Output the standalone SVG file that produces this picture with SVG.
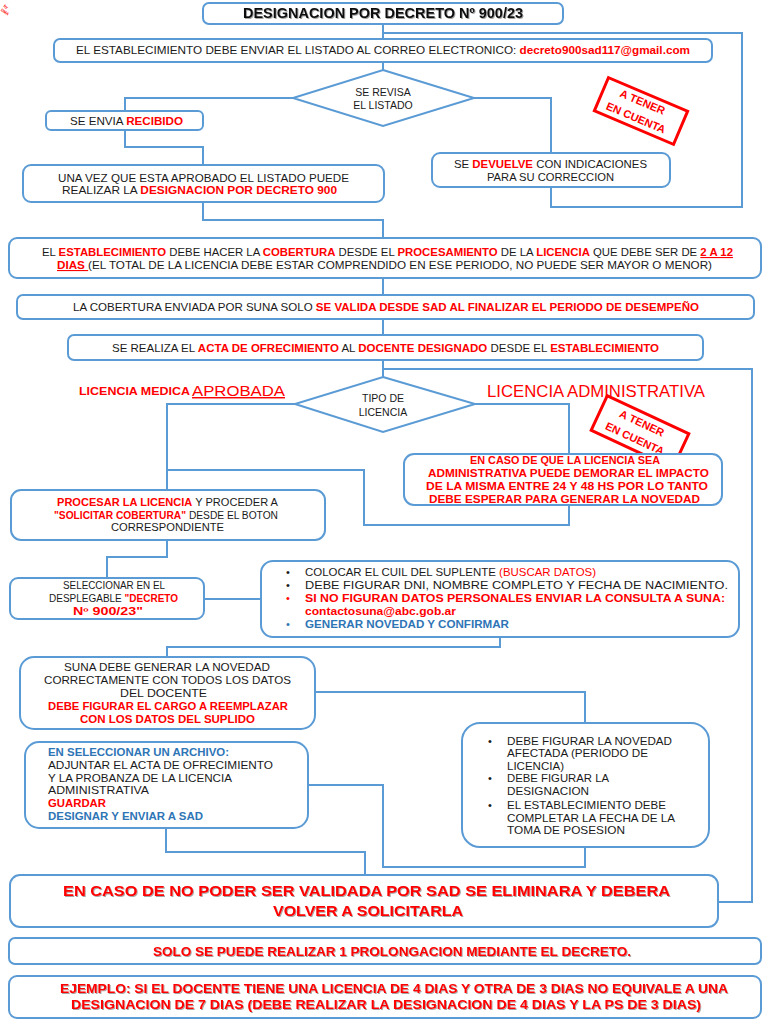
<svg xmlns="http://www.w3.org/2000/svg" width="768" height="1024" viewBox="0 0 768 1024">
<style>
.box{fill:#fff;stroke:#5B9BD5;stroke-width:2}
.dia{fill:#fff;stroke:#5B9BD5;stroke-width:2}
.conn{fill:none;stroke:#5B9BD5;stroke-width:2}
text{font-family:"Liberation Sans",Arial,sans-serif;font-size:11px;fill:#1a1a1a}
.c{text-anchor:middle}
.r{fill:#FF0000;font-weight:bold}
.rn{fill:#FF0000}
.bl{fill:#2E75B6;font-weight:bold}
.u{text-decoration:underline}
.sm{font-size:10px}
.stamp rect{fill:none;stroke:#FF0000;stroke-width:3}
.stamp text{fill:#FF0000;font-weight:bold;font-size:11px;text-anchor:middle}
</style>
<defs>
<filter id="sh" x="-5%" y="-30%" width="110%" height="160%">
<feDropShadow dx="1" dy="1" stdDeviation="0.6" flood-color="#000" flood-opacity="0.35"/>
</filter>
</defs>
<rect width="768" height="1024" fill="#fff"/>

<g id="logo" transform="translate(5,4) rotate(35)">
<text x="0" y="3" style="font-size:4px;fill:#FF0000;font-weight:bold">by</text>
<text x="0" y="8" style="font-size:4px;fill:#FF0000;font-weight:bold">DMA</text>
</g>

<g id="connectors">
<path class="conn" d="M383 24 V39"/>
<path class="conn" d="M474 98 H551 V207 H742 V33 H383"/>
<path class="conn" d="M383 62 V70"/>
<path class="conn" d="M293 98 H125 V111"/>
<path class="conn" d="M125 130 V147 H203 V165"/>
<path class="conn" d="M203 202 V220 H383 V238"/>
<path class="conn" d="M383 278 V295"/>
<path class="conn" d="M383 319 V335"/>
<path class="conn" d="M383 360 V377"/>
<path class="conn" d="M383 369 H752 V902 H718"/>
<path class="conn" d="M475 404 H569 V454"/>
<path class="conn" d="M295 404 H167 V490"/>
<path class="conn" d="M569 505 V525 H364 V470 H167"/>
<path class="conn" d="M167 540 V557 H107 V578"/>
<path class="conn" d="M204 599 H261"/>
<path class="conn" d="M500 637 V647 H167 V657"/>
<path class="conn" d="M315 692 H585 V723"/>
<path class="conn" d="M308 785 H383 V867 H585 V847"/>
<path class="conn" d="M166 828 V852 H365 V876"/>
</g>

<g id="stamp1" class="stamp" transform="translate(641,111) rotate(23)">
<rect x="-43" y="-18" width="86" height="36"/>
<text x="-2" y="-5">A TENER</text>
<text x="-2" y="12">EN CUENTA</text>
</g>
<g id="stamp2" class="stamp" transform="translate(640,432) rotate(25)">
<rect x="-45" y="-19" width="90" height="38"/>
<text x="-2" y="-5">A TENER</text>
<text x="-2" y="12">EN CUENTA</text>
</g>

<g id="title">
<rect class="box" x="203" y="3" width="360" height="21" rx="6"/>
<text x="243" y="18" textLength="280" lengthAdjust="spacingAndGlyphs" style="font-size:14px;font-weight:bold;fill:#111" filter="url(#sh)">DESIGNACION POR DECRETO Nº 900/23</text>
</g>

<g id="enviar-listado">
<rect class="box" x="54" y="39" width="658" height="23" rx="6"/>
<text x="76" y="54" textLength="614" lengthAdjust="spacingAndGlyphs" style="font-size:11.5px">EL ESTABLECIMIENTO DEBE ENVIAR EL LISTADO AL CORREO ELECTRONICO: <tspan class="r">decreto900sad117@gmail.com</tspan></text>
</g>

<g id="se-revisa">
<polygon class="dia" points="383,70 474,98 383,126 293,98"/>
<text class="c" x="383" y="96" style="font-size:10.5px">SE REVISA</text>
<text class="c" x="383" y="109" style="font-size:10.5px">EL LISTADO</text>
</g>

<g id="recibido">
<rect class="box" x="46" y="111" width="157" height="19" rx="5"/>
<text x="70" y="125" textLength="113" lengthAdjust="spacingAndGlyphs">SE ENVIA <tspan class="r">RECIBIDO</tspan></text>
</g>

<g id="devuelve">
<rect class="box" x="432" y="153" width="238" height="34" rx="8"/>
<text x="454" y="168" textLength="193" lengthAdjust="spacingAndGlyphs">SE <tspan class="r">DEVUELVE</tspan> CON INDICACIONES</text>
<text x="487" y="181" textLength="127" lengthAdjust="spacingAndGlyphs">PARA SU CORRECCION</text>
</g>

<g id="aprobado">
<rect class="box" x="23" y="165" width="361" height="37" rx="8"/>
<text x="58" y="182" textLength="291" lengthAdjust="spacingAndGlyphs">UNA VEZ QUE ESTA APROBADO EL LISTADO PUEDE</text>
<text x="62" y="194" textLength="275" lengthAdjust="spacingAndGlyphs">REALIZAR LA <tspan class="r">DESIGNACION POR DECRETO 900</tspan></text>
</g>

<g id="cobertura-procesamiento">
<rect class="box" x="9" y="238" width="752" height="40" rx="8"/>
<text x="42" y="256" textLength="691" lengthAdjust="spacingAndGlyphs">EL <tspan class="r">ESTABLECIMIENTO</tspan> DEBE HACER LA <tspan class="r">COBERTURA</tspan> DESDE EL <tspan class="r">PROCESAMIENTO</tspan> DE LA <tspan class="r">LICENCIA</tspan> QUE DEBE SER DE <tspan class="r u">2 A 12</tspan></text>
<text x="57" y="269" textLength="655" lengthAdjust="spacingAndGlyphs"><tspan class="r u">DIAS </tspan>(EL TOTAL DE LA LICENCIA DEBE ESTAR COMPRENDIDO EN ESE PERIODO, NO PUEDE SER MAYOR O MENOR)</text>
</g>

<g id="cobertura-suna">
<rect class="box" x="17" y="295" width="737" height="24" rx="6"/>
<text x="73" y="311" textLength="626" lengthAdjust="spacingAndGlyphs">LA COBERTURA ENVIADA POR SUNA SOLO <tspan class="r">SE VALIDA DESDE SAD AL FINALIZAR EL PERIODO DE DESEMPEÑO</tspan></text>
</g>

<g id="acta">
<rect class="box" x="68" y="335" width="635" height="25" rx="6"/>
<text x="112" y="352" textLength="547" lengthAdjust="spacingAndGlyphs">SE REALIZA EL <tspan class="r">ACTA DE OFRECIMIENTO</tspan> AL <tspan class="r">DOCENTE DESIGNADO</tspan> DESDE EL <tspan class="r">ESTABLECIMIENTO</tspan></text>
</g>

<g id="labels">
<text x="79" y="395" textLength="111" lengthAdjust="spacingAndGlyphs" class="r" style="font-size:10px">LICENCIA MEDICA</text>
<text x="192" y="396" textLength="93" lengthAdjust="spacingAndGlyphs" class="rn u" style="font-size:14.5px">APROBADA</text>
<text x="487" y="397" textLength="218" lengthAdjust="spacingAndGlyphs" class="rn" style="font-size:16px">LICENCIA ADMINISTRATIVA</text>
</g>

<g id="tipo-licencia">
<polygon class="dia" points="383,377 475,404 383,432 295,404"/>
<text class="c" x="383" y="402" style="font-size:10.5px">TIPO DE</text>
<text class="c" x="383" y="416" style="font-size:10.5px">LICENCIA</text>
</g>

<g id="administrativa">
<rect class="box" x="404" y="454" width="318" height="51" rx="10"/>
<text x="470" y="464" textLength="190" lengthAdjust="spacingAndGlyphs" class="r" style="font-size:10.5px">EN CASO DE QUE LA LICENCIA SEA</text>
<text x="428" y="477" textLength="281" lengthAdjust="spacingAndGlyphs" class="r" style="font-size:10.5px">ADMINISTRATIVA PUEDE DEMORAR EL IMPACTO</text>
<text x="426" y="490" textLength="282" lengthAdjust="spacingAndGlyphs" class="r" style="font-size:10.5px">DE LA MISMA ENTRE 24 Y 48 HS POR LO TANTO</text>
<text x="429" y="503" textLength="271" lengthAdjust="spacingAndGlyphs" class="r" style="font-size:10.5px">DEBE ESPERAR PARA GENERAR LA NOVEDAD</text>
</g>

<g id="procesar">
<rect class="box" x="11" y="490" width="314" height="50" rx="10"/>
<text class="sm" x="57" y="506" textLength="221" lengthAdjust="spacingAndGlyphs"><tspan class="r">PROCESAR LA LICENCIA</tspan> Y PROCEDER A</text>
<text class="sm" x="54" y="519" textLength="224" lengthAdjust="spacingAndGlyphs"><tspan class="r">"SOLICITAR COBERTURA"</tspan> DESDE EL BOTON</text>
<text class="sm" x="111" y="531" textLength="113" lengthAdjust="spacingAndGlyphs">CORRESPONDIENTE</text>
</g>

<g id="seleccionar">
<rect class="box" x="10" y="578" width="194" height="41" rx="8"/>
<text class="sm" x="63" y="589" textLength="102" lengthAdjust="spacingAndGlyphs">SELECCIONAR EN EL</text>
<text class="sm" x="49" y="602" textLength="129" lengthAdjust="spacingAndGlyphs">DESPLEGABLE <tspan class="r">"DECRETO</tspan></text>
<text class="sm r" x="73" y="615" textLength="70" lengthAdjust="spacingAndGlyphs">Nº 900/23"</text>
</g>

<g id="datos-suplente">
<rect class="box" x="261" y="561" width="478" height="76" rx="12"/>
<text x="286" y="576">•</text>
<text x="305" y="576" textLength="291" lengthAdjust="spacingAndGlyphs">COLOCAR EL CUIL DEL SUPLENTE <tspan class="r" style="font-weight:normal">(BUSCAR DATOS)</tspan></text>
<text x="286" y="589">•</text>
<text x="305" y="589" textLength="423" lengthAdjust="spacingAndGlyphs">DEBE FIGURAR DNI, NOMBRE COMPLETO Y FECHA DE NACIMIENTO.</text>
<text x="286" y="602" class="rn">•</text>
<text x="305" y="602" textLength="420" lengthAdjust="spacingAndGlyphs" class="r">SI NO FIGURAN DATOS PERSONALES ENVIAR LA CONSULTA A SUNA:</text>
<text x="305" y="615" textLength="151" lengthAdjust="spacingAndGlyphs" class="r">contactosuna@abc.gob.ar</text>
<text x="286" y="628" style="fill:#2E75B6">•</text>
<text x="305" y="628" textLength="204" lengthAdjust="spacingAndGlyphs" class="bl">GENERAR NOVEDAD Y CONFIRMAR</text>
</g>

<g id="suna-novedad">
<rect class="box" x="20" y="657" width="295" height="72" rx="14"/>
<text x="64" y="671" textLength="206" lengthAdjust="spacingAndGlyphs">SUNA DEBE GENERAR LA NOVEDAD</text>
<text x="44" y="684" textLength="247" lengthAdjust="spacingAndGlyphs">CORRECTAMENTE CON TODOS LOS DATOS</text>
<text x="120" y="697" textLength="87" lengthAdjust="spacingAndGlyphs">DEL DOCENTE</text>
<text x="48" y="710" textLength="240" lengthAdjust="spacingAndGlyphs" class="r">DEBE FIGURAR EL CARGO A REEMPLAZAR</text>
<text x="80" y="723" textLength="175" lengthAdjust="spacingAndGlyphs" class="r">CON LOS DATOS DEL SUPLIDO</text>
</g>

<g id="archivo">
<rect class="box" x="25" y="742" width="283" height="86" rx="14"/>
<text x="48" y="756" textLength="181" lengthAdjust="spacingAndGlyphs" class="bl">EN SELECCIONAR UN ARCHIVO:</text>
<text x="48" y="769" textLength="225" lengthAdjust="spacingAndGlyphs">ADJUNTAR EL ACTA DE OFRECIMIENTO</text>
<text x="48" y="782" textLength="184" lengthAdjust="spacingAndGlyphs">Y LA PROBANZA DE LA LICENCIA</text>
<text x="48" y="794" textLength="101" lengthAdjust="spacingAndGlyphs">ADMINISTRATIVA</text>
<text x="48" y="807" textLength="58" lengthAdjust="spacingAndGlyphs" class="r">GUARDAR</text>
<text x="48" y="820" textLength="155" lengthAdjust="spacingAndGlyphs" class="bl">DESIGNAR Y ENVIAR A SAD</text>
</g>

<g id="verificar">
<rect class="box" x="462" y="723" width="247" height="124" rx="18"/>
<text x="488" y="745">•</text>
<text x="507" y="745" textLength="165" lengthAdjust="spacingAndGlyphs">DEBE FIGURAR LA NOVEDAD</text>
<text x="507" y="757" textLength="141" lengthAdjust="spacingAndGlyphs">AFECTADA (PERIODO DE</text>
<text x="507" y="770" textLength="57" lengthAdjust="spacingAndGlyphs">LICENCIA)</text>
<text x="488" y="782">•</text>
<text x="507" y="782" textLength="102" lengthAdjust="spacingAndGlyphs">DEBE FIGURAR LA</text>
<text x="507" y="795" textLength="82" lengthAdjust="spacingAndGlyphs">DESIGNACION</text>
<text x="488" y="809">•</text>
<text x="507" y="809" textLength="159" lengthAdjust="spacingAndGlyphs">EL ESTABLECIMIENTO DEBE</text>
<text x="507" y="822" textLength="168" lengthAdjust="spacingAndGlyphs">COMPLETAR LA FECHA DE LA</text>
<text x="507" y="834" textLength="118" lengthAdjust="spacingAndGlyphs">TOMA DE POSESION</text>
</g>

<g id="no-validada">
<rect class="box" x="10" y="875" width="708" height="52" rx="10"/>
<text x="63" y="896" textLength="607" lengthAdjust="spacingAndGlyphs" class="r" style="font-size:15px" filter="url(#sh)">EN CASO DE NO PODER SER VALIDADA POR SAD SE ELIMINARA Y DEBERA</text>
<text x="273" y="916" textLength="190" lengthAdjust="spacingAndGlyphs" class="r" style="font-size:15px" filter="url(#sh)">VOLVER A SOLICITARLA</text>
</g>

<g id="prolongacion">
<rect class="box" x="9" y="938" width="752" height="26" rx="6"/>
<text x="153" y="956" textLength="478" lengthAdjust="spacingAndGlyphs" class="r" style="font-size:12.5px" filter="url(#sh)">SOLO SE PUEDE REALIZAR 1 PROLONGACION MEDIANTE EL DECRETO.</text>
</g>

<g id="ejemplo">
<rect class="box" x="9" y="976" width="752" height="42" rx="8"/>
<text x="60" y="993" textLength="668" lengthAdjust="spacingAndGlyphs" class="r" style="font-size:12.5px" filter="url(#sh)">EJEMPLO: SI EL DOCENTE TIENE UNA LICENCIA DE 4 DIAS Y OTRA DE 3 DIAS NO EQUIVALE A UNA</text>
<text x="71" y="1009" textLength="630" lengthAdjust="spacingAndGlyphs" class="r" style="font-size:12.5px" filter="url(#sh)">DESIGNACION DE 7 DIAS (DEBE REALIZAR LA DESIGNACION DE 4 DIAS Y LA PS DE 3 DIAS)</text>
</g>
</svg>
